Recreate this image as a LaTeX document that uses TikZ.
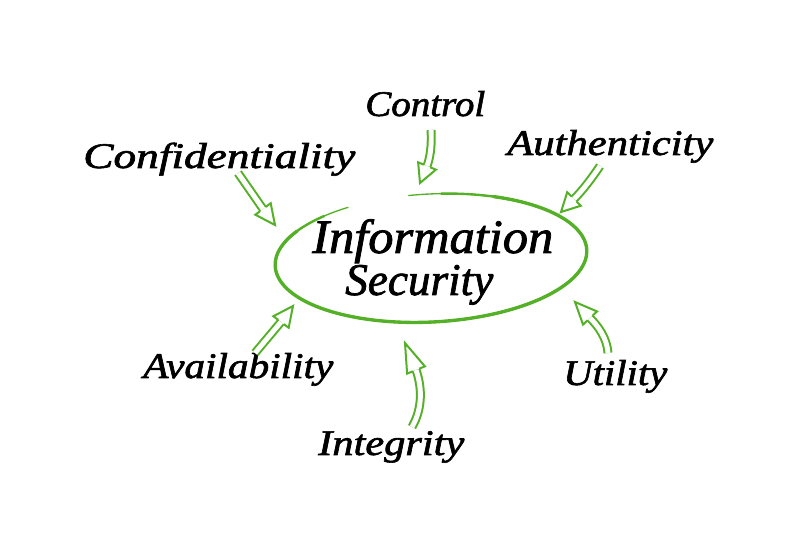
\documentclass[tikz,border=0pt]{standalone}
\usepackage{fontspec}
\newfontface\handfont{Liberation Serif Italic}[FakeBold=1.6]
\usetikzlibrary{calc}
\definecolor{mygreen}{RGB}{84,176,38}
\newcommand\hhead[2]{\draw[headline] ($(#1)!2.6pt!90:(#2)$) -- ($(#1)!7.2pt!90:(#2)$) -- (#2) -- ($(#1)!7.2pt!-90:(#2)$) -- ($(#1)!2.6pt!-90:(#2)$);}
\tikzset{
  lbl/.style={inner sep=0pt, anchor=base west, font=\fontsize{27}{27}\handfont, text=black},
  biglbl/.style={inner sep=0pt, anchor=base west, font=\fontsize{36}{36}\handfont, text=black},
  shaft/.style={draw=mygreen, line width=1.5pt, double=white, double distance=3.7pt},
  headline/.style={draw=mygreen, line width=1.5pt, line join=miter},
  ellip/.style={draw=mygreen, line cap=round}
}
\begin{document}
\begin{tikzpicture}[x=0.75pt,y=0.75pt]
\fill[white] (0,0) rectangle (800,556);
\useasboundingbox (0,0) rectangle (800,556);

% labels
\node[lbl] (conf) at (83,388) {\resizebox{204pt}{\height}{Confidentiality}};
\node[lbl] (ctrl) at (365,440) {\resizebox{90pt}{\height}{Control}};
\node[lbl] (auth) at (507,401) {\resizebox{154.5pt}{\height}{Authenticity}};
\node[lbl] (avail) at (143,178) {\resizebox{142.5pt}{\height}{Availability}};
\node[lbl] (util) at (563,171) {\resizebox{78pt}{\height}{Utility}};
\node[lbl] (integ) at (318,101) {\resizebox{109.5pt}{\height}{Integrity}};
\node[biglbl] (info) at (312,303) {\raisebox{0pt}[\height][0pt]{\resizebox{180.75pt}{\height}{Information}}};
\node[biglbl, font=\fontsize{34}{34}\handfont] (secur) at (345,261) {\resizebox{111pt}{\height}{Security}};

% ellipse (open, tapered)
\coordinate (C) at (431,298);
\begin{scope}[rotate around={3:(C)}]
\draw[ellip, line width=1.0pt] (C) ++(121:156 and 64) arc[start angle=121, end angle=457, x radius=156, y radius=64];
\draw[ellip, line width=1.8pt] (C) ++(132:156 and 64) arc[start angle=132, end angle=445, x radius=156, y radius=64];
\draw[ellip, line width=2.5pt] (C) ++(148:156 and 64) arc[start angle=148, end angle=425, x radius=156, y radius=64];
\end{scope}

% arrow coordinates
\coordinate (s1) at (238,383); \coordinate (b1) at (263,347); \coordinate (t1) at (275,331);
\coordinate (s2) at (431,426); \coordinate (b2) at (427,390); \coordinate (t2) at (420,373);
\coordinate (s3) at (600,390); \coordinate (b3) at (574,357); \coordinate (t3) at (561,344);
\coordinate (s4) at (608,203); \coordinate (b4) at (590,238); \coordinate (t4) at (575,254);
\coordinate (s5) at (412,129); \coordinate (b5) at (416,186); \coordinate (t5) at (405,213);
\coordinate (s6) at (255,203); \coordinate (b6) at (281,234); \coordinate (t6) at (293,250);

\draw[shaft] (s1) -- (b1); \hhead{b1}{t1}
\draw[shaft] (s2) .. controls (432,410) and (430,398) .. (b2); \hhead{b2}{t2}
\draw[shaft] (s3) .. controls (590,375) and (581,364) .. (b3); \hhead{b3}{t3}
\draw[shaft] (s4) .. controls (607,218) and (598,230) .. (b4); \hhead{b4}{t4}
\draw[shaft] (s5) .. controls (424,150) and (421,172) .. (b5); \hhead{b5}{t5}
\draw[shaft] (s6) -- (b6); \hhead{b6}{t6}
\end{tikzpicture}
\end{document}
